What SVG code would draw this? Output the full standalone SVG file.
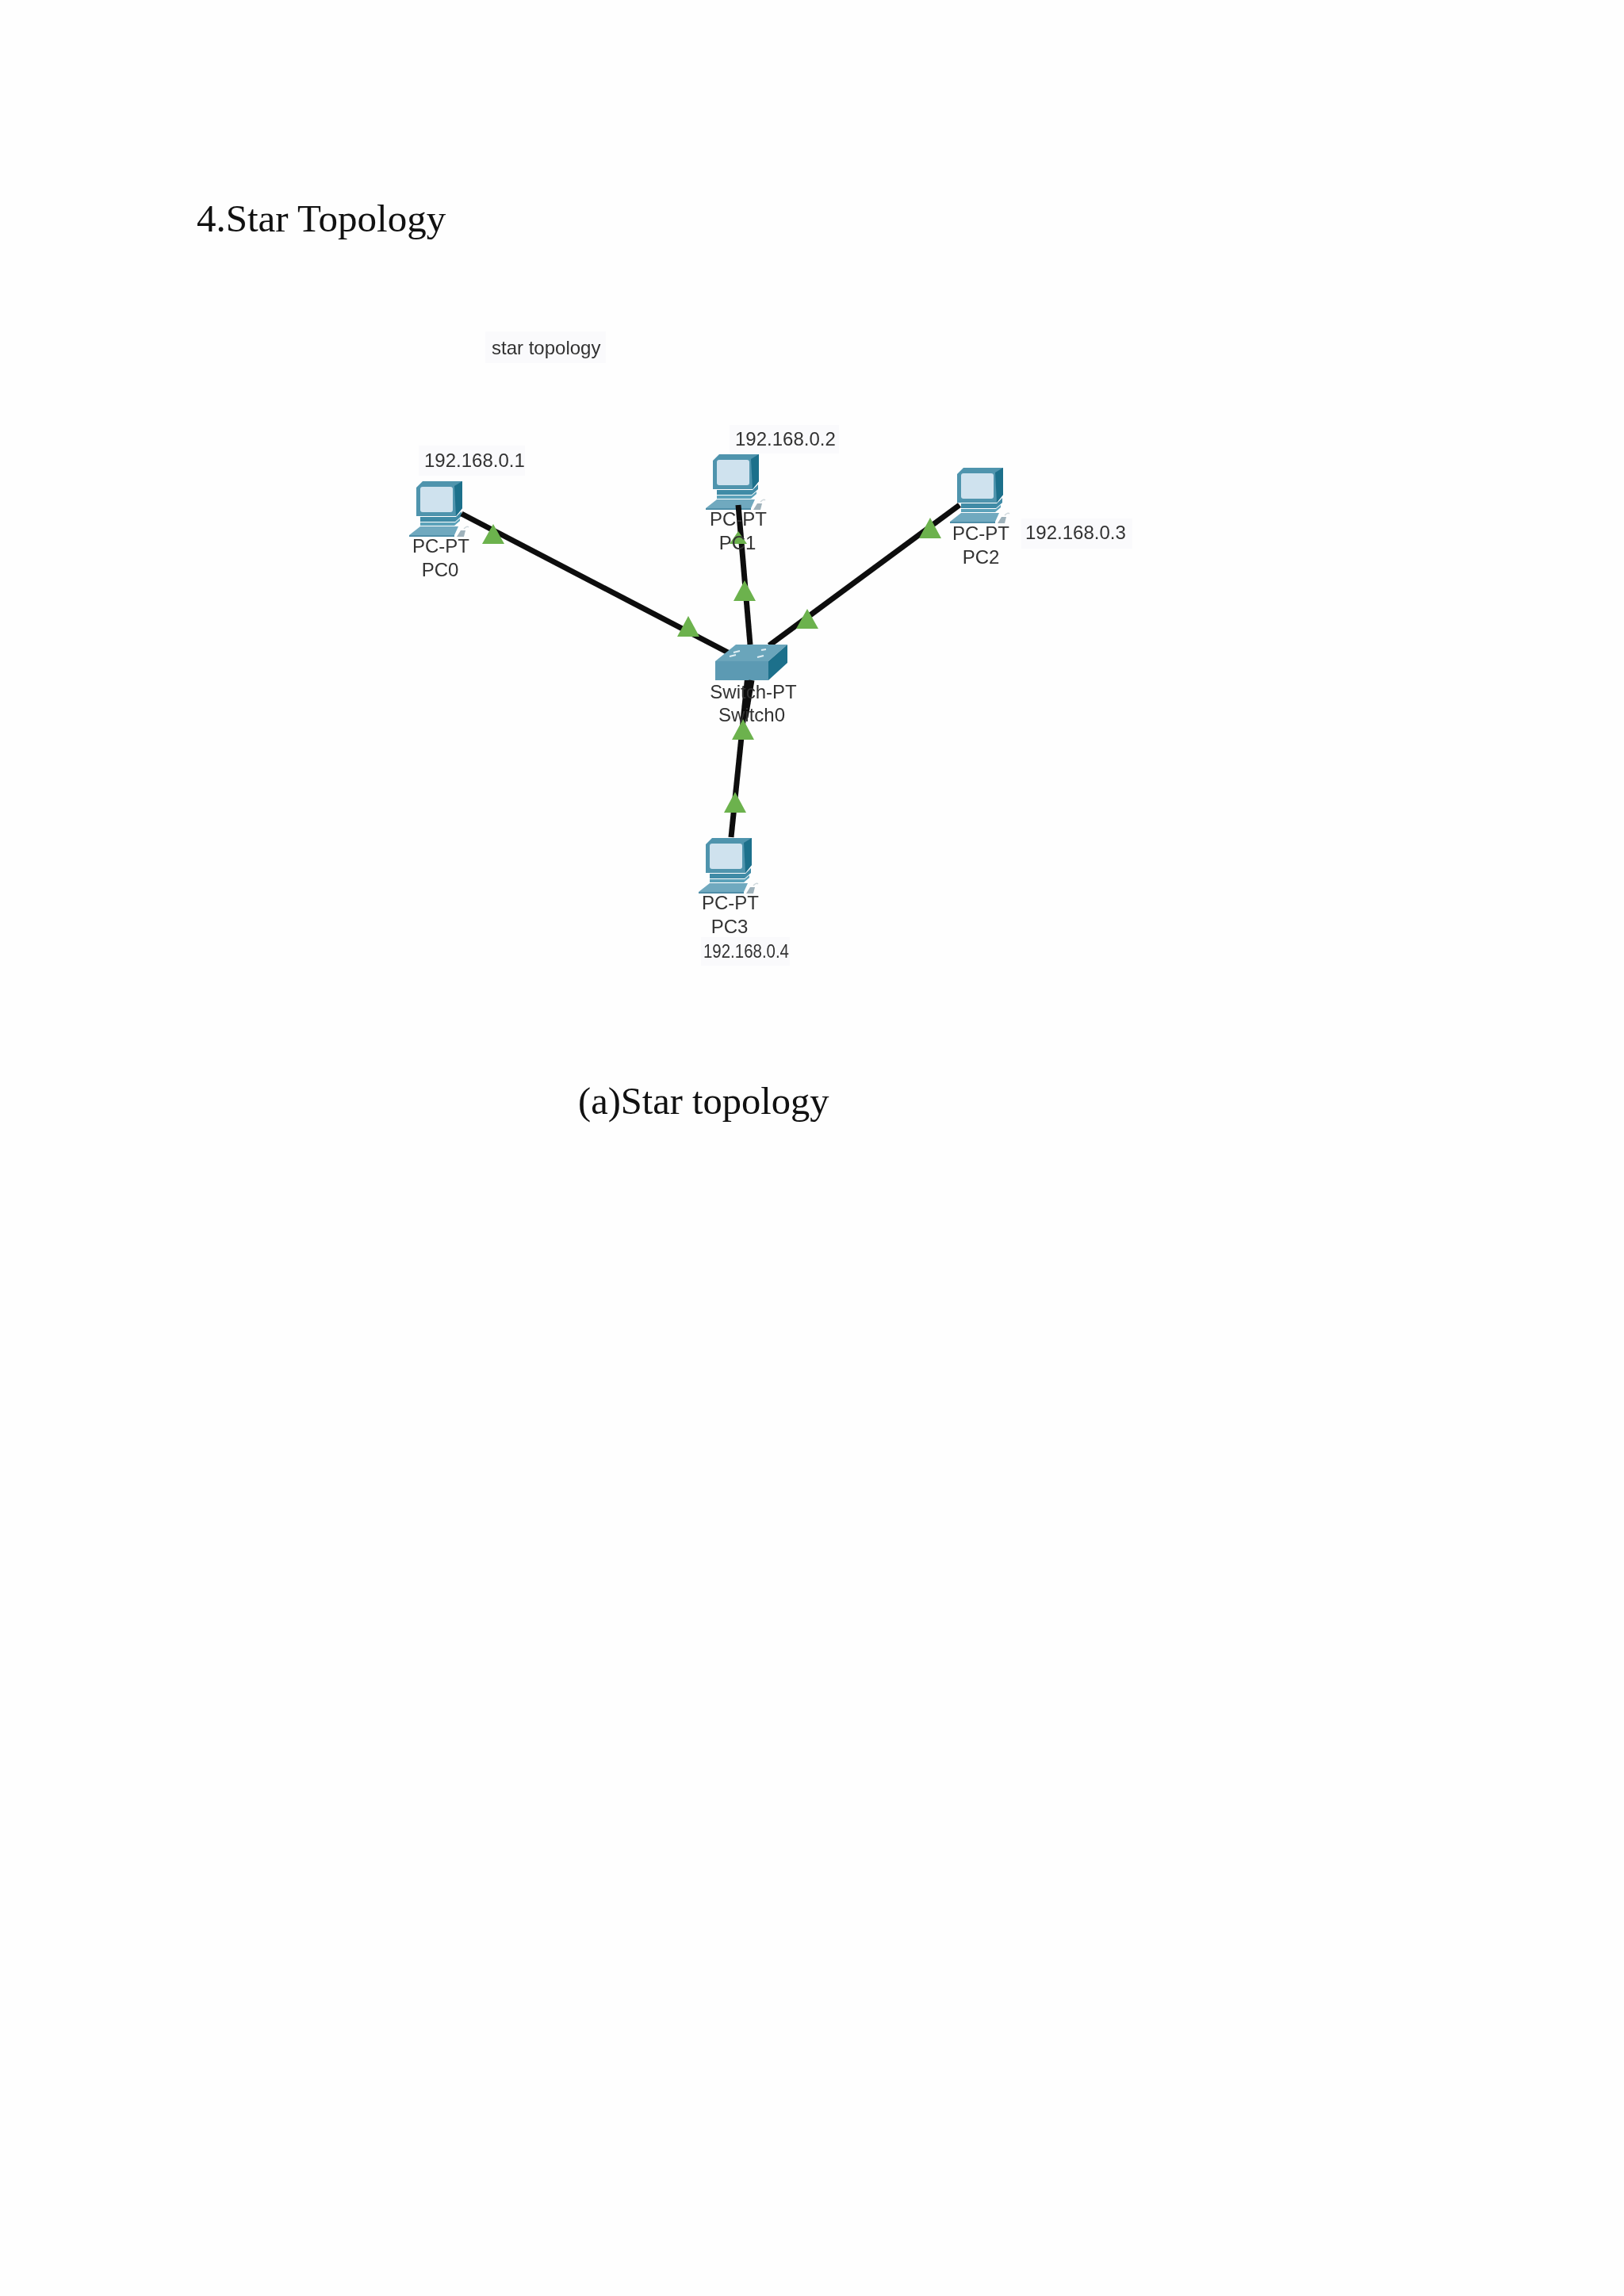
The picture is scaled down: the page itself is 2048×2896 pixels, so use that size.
<svg xmlns="http://www.w3.org/2000/svg" width="2048" height="2896" viewBox="0 0 2048 2896">
<style>
.doc{font-family:"Liberation Serif","Times New Roman",serif;font-size:48.5px;fill:#111}
.lbl{font-family:"Liberation Sans",Arial,sans-serif;font-size:24px;fill:#333;text-anchor:middle}
.ip{font-family:"Liberation Sans",Arial,sans-serif;font-size:24px;fill:#333}
.bk{fill:#fafafc}
.ln{stroke:#0b0b0b;stroke-width:7;fill:none;stroke-linecap:butt}
.tri{fill:#6cb24e}
</style>
<defs>
<filter id="s" x="-5%" y="-5%" width="110%" height="110%"><feGaussianBlur stdDeviation="0.7"/></filter>
<symbol id="pc" overflow="visible">
<path d="M0 8 L8 0 L58 0 L58 34 L50 44 L0 44 Z" fill="#4f94ad"/>
<path d="M48 6 L58 0 L58 34 L50 44 Z" fill="#1f6f8b"/>
<rect x="5" y="7" width="41" height="32" rx="3" fill="#cfe2ee"/>
<path d="M5 45 L50 45 L57 38 L57 44 L49 51 L5 51 Z" fill="#3f8ba6"/>
<path d="M5 52 L49 52 L55 47 L55 50 L48 56 L5 56 Z" fill="#5ba2ba"/>
<path d="M-9 68 L5 57 L53 57 L48 68 Z" fill="#6fa9bf"/>
<path d="M-9 68 L48 68 L48 70 L-9 70 Z" fill="#4f8ea8"/>
<path d="M51 70 L56 62 L62 62 L60 70 Z" fill="#9fb2bb"/>
<path d="M60 60 q4 -4 6 -2" stroke="#cfd8dc" stroke-width="1.5" fill="none"/>
</symbol>
</defs>
<rect id="page" width="2048" height="2896" fill="#fefefe"/>
<text class="doc" x="248" y="292" style="font-size:49px">4.Star Topology</text>
<text class="doc" x="729" y="1405">(a)Star topology</text>
<g filter="url(#s)">
<g id="backings">
<rect class="bk" x="612" y="418" width="152" height="40"/>
<rect class="bk" x="528" y="562" width="134" height="38"/>
<rect class="bk" x="920" y="536" width="138" height="36"/>
<rect class="bk" x="1288" y="654" width="140" height="38"/>
<rect class="bk" x="884" y="1182" width="112" height="36"/>
</g>
<g id="pc0-node"><use href="#pc" x="525" y="607"/></g>
<g id="pc1-node"><use href="#pc" x="899" y="573"/></g>
<g id="pc2-node"><use href="#pc" x="1207" y="590"/></g>
<g id="pc3-node"><use href="#pc" x="890" y="1057"/></g>
<g id="connectors">
<path class="ln" d="M582 648 L920 824"/>
<path class="ln" d="M931 637 L946 813"/>
<path class="ln" d="M1210 637 L970 814"/>
<path class="ln" d="M922 1056 L945 832"/>
<path class="tri" d="M622 661 L636 686 L608 686 Z"/>
<path class="tri" d="M868 777 L882 803 L854 803 Z"/>
<path class="tri" d="M939 732 L953 758 L925 758 Z"/>
<path class="tri" d="M1018 768 L1032 793 L1004 793 Z"/>
<path class="tri" d="M1173 653 L1187 679 L1159 679 Z"/>
<path class="tri" d="M937 907 L951 933 L923 933 Z"/>
<path class="tri" d="M927 999 L941 1025 L913 1025 Z"/>
<path class="tri" d="M931 670 L942 686 L920 686 Z"/>
</g>
<g id="switch0">
<path d="M902 834 L928 813 L993 813 L969 834 Z" fill="#6ba5bb"/>
<path d="M902 834 L969 834 L969 858 L902 858 Z" fill="#5b9ab3"/>
<path d="M969 834 L993 813 L993 836 L969 858 Z" fill="#1f6f8b"/>
<path d="M925 823 l8 -2 M960 820 l6 -1 M920 828 l8 -2 M955 829 l8 -2" stroke="#dfeef4" stroke-width="2"/>
</g>
<path class="ln" d="M948 858 L940 905"/>
<g id="labels">
<text class="ip" x="535" y="589">192.168.0.1</text>
<text class="ip" x="927" y="562">192.168.0.2</text>
<text class="ip" x="1293" y="680">192.168.0.3</text>
<text class="ip" x="887" y="1208" fill="#444" textLength="108" lengthAdjust="spacingAndGlyphs">192.168.0.4</text>
<text class="ip" x="620" y="447">star topology</text>
<text class="lbl" x="556" y="697">PC-PT</text><text class="lbl" x="555" y="727">PC0</text>
<text class="lbl" x="931" y="663">PC-PT</text><text class="lbl" x="930" y="693">PC1</text>
<text class="lbl" x="1237" y="681">PC-PT</text><text class="lbl" x="1237" y="711">PC2</text>
<text class="lbl" x="950" y="881">Switch-PT</text><text class="lbl" x="948" y="910">Switch0</text>
<text class="lbl" x="921" y="1147">PC-PT</text><text class="lbl" x="920" y="1177">PC3</text>
</g>
</g>
</svg>
